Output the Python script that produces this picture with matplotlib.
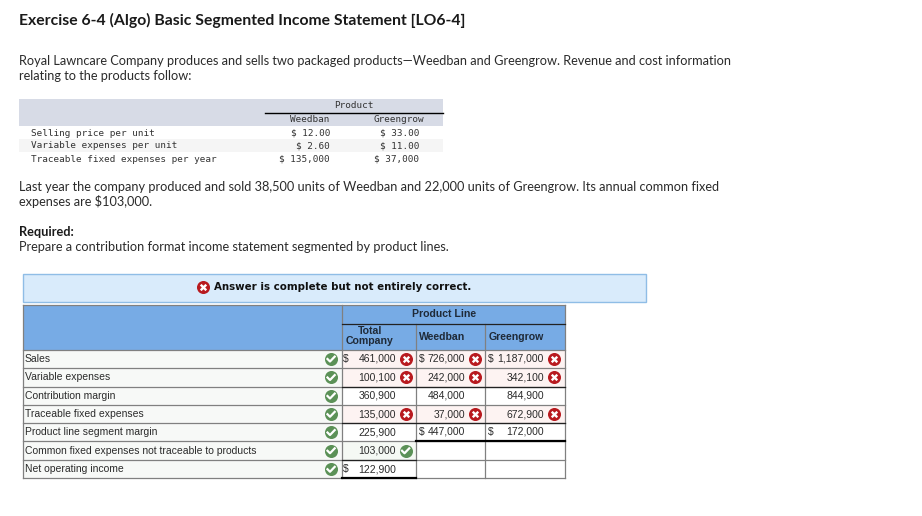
import matplotlib
matplotlib.use('Agg')
import matplotlib.pyplot as plt
from matplotlib.patches import Rectangle

# Data
products = ['Weedban', 'Greengrow']
top_labels = ['Selling price per unit', 'Variable expenses per unit', 'Traceable fixed expenses per year']
top_weedban = ['$ 12.00', '$ 2.60', '$ 135,000']
top_greengrow = ['$ 33.00', '$ 11.00', '$ 37,000']

row_labels = ['Sales', 'Variable expenses', 'Contribution margin', 'Traceable fixed expenses',
              'Product line segment margin', 'Common fixed expenses not traceable to products',
              'Net operating income']
total_vals = ['461,000', '100,100', '360,900', '135,000', '225,900', '103,000', '122,900']
weedban_vals = ['726,000', '242,000', '484,000', '37,000', '447,000', '', '']
green_vals = ['1,187,000', '342,100', '844,900', '672,900', '172,000', '', '']
# 'x' wrong, 'c' right, '' no mark
total_marks = ['x', 'x', '', 'x', '', 'c', '']
weedban_marks = ['x', 'x', '', 'x', '', '', '']
green_marks = ['x', 'x', '', 'x', '', '', '']

BLUE = '#77abe5'
GRID = '#808080'
TXT = '#2b2b2b'
RED = '#b81a1f'
GREEN = '#5b9157'

fig = plt.figure(figsize=(9.22, 5.16), dpi=100)
ax = fig.add_axes([0, 0, 1, 1])
ax.set_xlim(0, 922)
ax.set_ylim(516, 0)
ax.axis('off')


def rect(x0, y0, x1, y1, color, **kw):
    ax.add_patch(Rectangle((x0, y0), x1 - x0, y1 - y0, facecolor=color, edgecolor='none', **kw))


def icon(x, y, kind):
    ax.scatter([x], [y], s=88, color=RED if kind == 'x' else GREEN, linewidths=0, zorder=5)
    if kind == 'x':
        ax.scatter([x], [y], s=16, marker='x', color='white', linewidths=1.7, zorder=6)
    else:
        ax.plot([x - 3.5, x - 1, x + 3.7], [y + 0.2, y + 2.7, y - 2.2], color='white', lw=1.6, zorder=6)


body = dict(family='Lato', fontsize=9.2, color=TXT, va='center')

# Intro text
ax.text(19, 20, 'Exercise 6-4 (Algo) Basic Segmented Income Statement [LO6-4]', fontsize=11.3,
        family='Lato', weight='bold', color='#1a1a1a', va='center')
intro = ['Royal Lawncare Company produces and sells two packaged products\u2014Weedban and Greengrow. Revenue and cost information',
         'relating to the products follow:']
for y, s in zip([61, 76], intro):
    ax.text(19, y, s, **body)

# Product table
rect(19, 99, 443, 126, '#d7dbe6')
rect(19, 139, 443, 152, '#f5f5f5')
ax.plot([265, 443], [112.5, 112.5], color='black', lw=1)
mono = dict(family='DejaVu Sans Mono', fontsize=6.78, color='#333333', va='center')
ax.text(354, 106, 'Product', ha='center', **mono)
ax.text(310, 120, products[0], ha='center', **mono)
ax.text(399, 120, products[1], ha='center', **mono)
for i, y in enumerate([133, 146, 159]):
    ax.text(31, y, top_labels[i], **mono)
    ax.text(330, y, top_weedban[i], ha='right', **mono)
    ax.text(419, y, top_greengrow[i], ha='right', **mono)

ax.text(19, 187, 'Last year the company produced and sold 38,500 units of Weedban and 22,000 units of Greengrow. Its annual common fixed', **body)
ax.text(19, 202, 'expenses are $103,000.', **body)
ax.text(19, 232, 'Required:', **{**body, 'weight': 'bold', 'color': '#1a1a1a'})
ax.text(19, 247, 'Prepare a contribution format income statement segmented by product lines.', **body)

# Notice box
ax.add_patch(Rectangle((22.5, 273.5), 623, 28, facecolor='#d9ebfb', edgecolor='#8fbde6', lw=1))
icon(203, 287, 'x')
ax.text(214, 287.5, 'Answer is complete but not entirely correct.', fontsize=7.43,
        family='DejaVu Sans', weight='bold', color='#111111', va='center')

# Answer table
left, c1, c2, c3, right = 22.5, 341.5, 416, 485, 564.5
top, head1, head2 = 304.5, 323.5, 349.5
lines = [349.5, 367.5, 386.5, 404.5, 423, 441, 459.5, 478]

rect(left, top, right, head2, BLUE)
rect(left, head2, c1, lines[-1], '#f7f9f7')

tbl = dict(family='Liberation Sans', fontsize=7.45, color=TXT, va='center')
hdr = dict(family='Liberation Sans', fontsize=7.55, weight='bold', color='#1f2a38', va='center')
ax.text(444, 314, 'Product Line', ha='center', **hdr)
ax.text(370, 336.5, 'Total\nCompany', ha='center', linespacing=1.0, **hdr)
ax.text(419, 336.5, products[0], **hdr)
ax.text(489, 336.5, products[1], **hdr)

for i in range(7):
    y0, y1 = lines[i], lines[i + 1]
    ym = (y0 + y1) / 2 + 0.3
    # tinted cells for wrong answers
    for xa, xb, mk in [(c1, c2, total_marks[i]), (c2, c3, weedban_marks[i]), (c3, right, green_marks[i])]:
        if mk == 'x':
            rect(xa, y0, xb, y1, '#fdf3f2')
        elif mk == 'c':
            rect(xa, y0, xb, y1, '#f5f9f4')
    ax.text(25, ym, row_labels[i], **tbl)
    icon(331, ym, 'c')

    ax.text(396, ym, total_vals[i], ha='right', **tbl)
    ax.text(465, ym if i != 4 else 431.7, weedban_vals[i], ha='right', **tbl)
    ax.text(544, ym if i != 4 else 431.7, green_vals[i], ha='right', **tbl)
    if total_marks[i]:
        icon(405.5, ym, total_marks[i])
    if weedban_marks[i]:
        icon(475, ym, weedban_marks[i])
    if green_marks[i]:
        icon(553.5, ym, green_marks[i])

# dollar signs
for x, y in [(343, 358.8), (343, 469), (419, 358.8), (488, 358.8), (419, 431.7), (488, 431.7)]:
    ax.text(x, y, '$', **tbl)

# Grid lines
for y in lines:
    ax.plot([left, right], [y, y], color=GRID, lw=0.9, zorder=3)
for x in [left, right]:
    ax.plot([x, x], [top, lines[-1]], color=GRID, lw=0.9, zorder=3)
for x in [c1, c2, c3]:
    ax.plot([x, x], [head1 if x != c1 else top, lines[-1]], color=GRID, lw=0.9, zorder=3)
ax.plot([left, right], [top, top], color=GRID, lw=0.9, zorder=3)

# black subtotal rules
ax.plot([c1, right], [head1, head1], color='#222222', lw=0.9, zorder=4)
ax.plot([c1, right], [lines[2], lines[2]], color='#222222', lw=0.9, zorder=4)
ax.plot([c1, right], [lines[4], lines[4]], color='#222222', lw=0.9, zorder=4)
ax.plot([c2, right], [lines[5], lines[5]], color='black', lw=1.6, zorder=4)
ax.plot([c1, c2], [lines[6], lines[6]], color='#222222', lw=0.9, zorder=4)
ax.plot([c1, c2], [lines[7], lines[7]], color='black', lw=1.6, zorder=4)

fig.savefig('out.png', dpi=100)
